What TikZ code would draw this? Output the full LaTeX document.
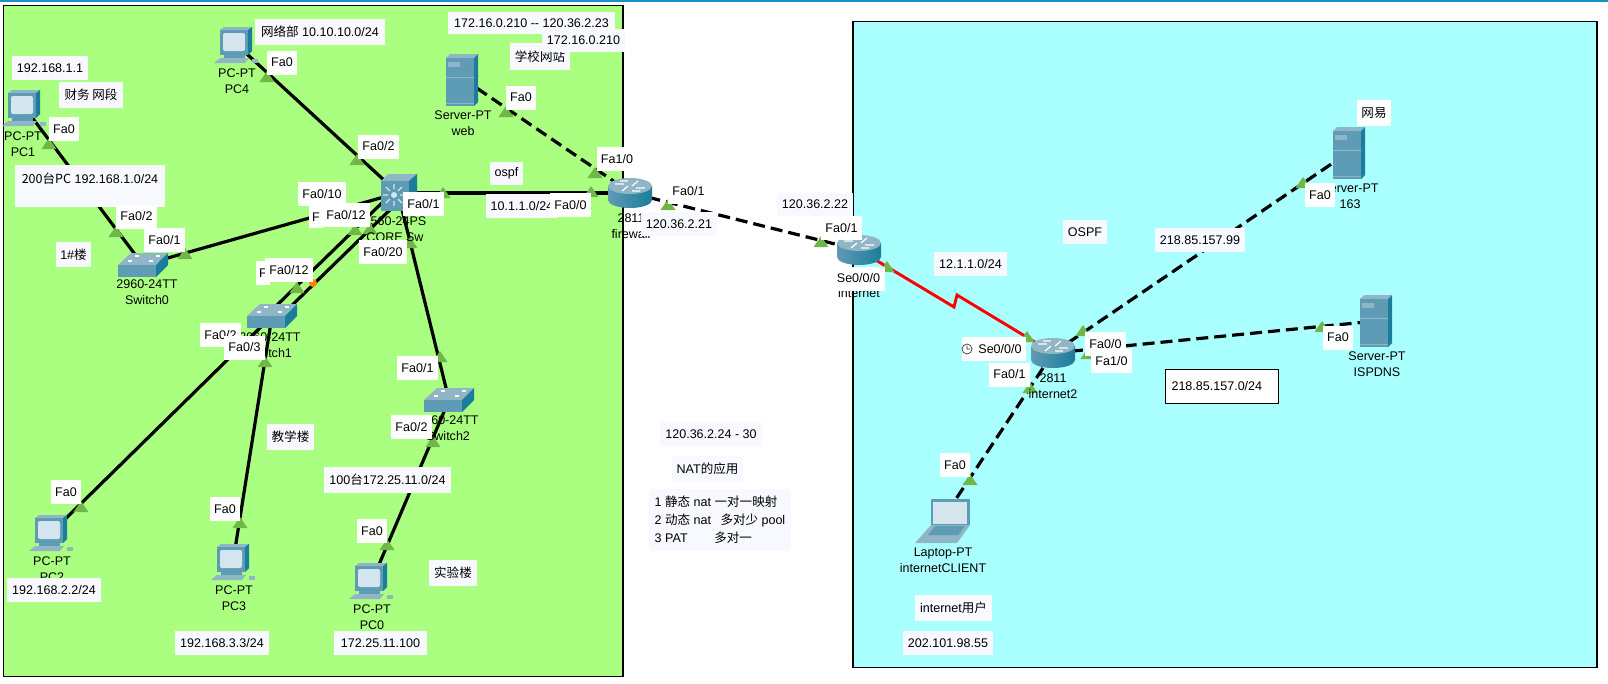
\documentclass[tikz,border=0pt]{standalone}
\usepackage{fontspec}
\setmainfont{Liberation Sans}
\newfontfamily\cjk{Noto Sans CJK SC}
\newcommand{\zh}[1]{{\cjk #1}}
\definecolor{zonegreen}{HTML}{AAFF80}
\definecolor{zonecyan}{HTML}{AAFFFF}
\definecolor{topblue}{HTML}{1A8FC8}
\definecolor{notebg}{HTML}{F7F9FF}
\definecolor{marker}{HTML}{70B648}
\definecolor{icfront}{HTML}{5E9BB4}
\definecolor{icside}{HTML}{1C7C9C}
\definecolor{ictop}{HTML}{8FB5C6}
\definecolor{icscreen}{HTML}{D5E5EE}
\tikzset{
  lan/.style={line width=2.4pt},
  wan/.style={line width=2.4pt,dash pattern=on 9pt off 4.5pt},
  serial/.style={line width=2.2pt,red,line join=miter},
  sized/.style 2 args={minimum width=#1*0.75pt,minimum height=#2*0.75pt},
  txt/.style={inner sep=0pt,font=\fontsize{9.4}{12}\selectfont},
  devlbl/.style={txt,align=center},
  port/.style={txt,fill=white},
  note/.style={txt,fill=notebg},
}
\newcommand{\porttri}[1]{\fill[marker] #1 ++(-7.5,5) -- ++(7.5,-11) -- ++(7.5,11) -- cycle;}
\newcommand{\pcicon}[1]{\begin{scope}[shift={#1}]
    \fill[ictop] (6,3) -- (10,0) -- (38,0) -- (34,3) -- cycle;
    \fill[icside] (34,3) -- (38,0) -- (38,24) -- (34,28) -- cycle;
    \fill[icfront] (6,3) rectangle (34,28);
    \fill[icscreen,rounded corners=1.5] (9,6) rectangle (31,24);
    \fill[icfront] (10,28) rectangle (31,31);
    \fill[ictop] (0,36) -- (6,31) -- (35,31) -- (31,36) -- cycle;
    \fill[ictop] (38,32) rectangle (44,36);
\end{scope}}
\newcommand{\servericon}[1]{\begin{scope}[shift={#1}]
    \fill[ictop] (0,4) -- (4,0) -- (32,0) -- (28,4) -- cycle;
    \fill[icside] (28,4) -- (32,0) -- (32,48) -- (28,52) -- cycle;
    \fill[icfront] (0,4) rectangle (28,52);
    \fill[ictop] (2,8) rectangle (14,13);
    \draw[ictop,line width=0.5pt] (0,23) -- (28,23) (0,49) -- (28,49);
\end{scope}}
\newcommand{\routericon}[1]{\begin{scope}[shift={#1}]
    \shade[left color=icfront,middle color=icscreen,right color=icside]
      (0,8) -- (0,22) arc[start angle=180,end angle=0,x radius=22,y radius=8] -- (44,8) -- cycle;
    \fill[ictop] (22,8) ellipse[x radius=22,y radius=8];
    \draw[white,line width=0.9pt] (7,6) -- (16,6) (12,3) -- (20,3) (37,10) -- (28,10) (32,13) -- (24,13)
      (24,8) -- (30,3) (20,8) -- (14,13);
\end{scope}}
\newcommand{\switchicon}[1]{\begin{scope}[shift={#1}]
    \fill[ictop] (0,13) -- (13,1) -- (50,1) -- (38,13) -- cycle;
    \fill[icside] (38,13) -- (50,1) -- (50,13) -- (38,25) -- cycle;
    \fill[icfront] (0,13) rectangle (38,25);
    \draw[white,line width=0.8pt] (10,9) -- (14,9) (17,4) -- (21,4) (31,9) -- (35,9) (38,4) -- (42,4);
\end{scope}}
\newcommand{\coreicon}[1]{\begin{scope}[shift={#1}]
    \fill[ictop] (0,7) -- (7,0) -- (36,0) -- (28,7) -- cycle;
    \fill[icside] (28,7) -- (36,0) -- (36,28) -- (28,37) -- cycle;
    \fill[icfront] (0,7) rectangle (28,37);
    \fill[icscreen] (13,21) circle[radius=3];
    \draw[icscreen,line width=0.9pt] (13,15) -- (13,10) (13,27) -- (13,32) (7,21) -- (2,21) (19,21) -- (24,21)
      (9,17) -- (5,13) (17,17) -- (21,13) (9,25) -- (5,29) (17,25) -- (21,29);
\end{scope}}
\newcommand{\laptopicon}[1]{\begin{scope}[shift={#1}]
    \fill[icfront] (16,1) rectangle (55,27);
    \fill[icscreen] (18,4) rectangle (52,26);
    \fill[ictop] (0,45) -- (16,27) -- (55,27) -- (42,45) -- cycle;
    \fill[icfront] (13,37) -- (20,28) -- (50,28) -- (43,37) -- cycle;
\end{scope}}

\begin{document}
\begin{tikzpicture}[x=0.75pt,y=0.75pt,yscale=-1,xscale=1]
\useasboundingbox (0,0) rectangle (1608,683);

%Zones
\fill[topblue] (0,0) rectangle (1608,1.5);
\draw[fill=zonegreen,line width=0.8pt] (3.5,5.5) rectangle (623,676.5);
\draw[fill=zonecyan,line width=0.8pt] (853,21.7) rectangle (1597,667.5);

%Devices
\coordinate (pcone) at (22,104);
\coordinate (pcfour) at (236,44);
\coordinate (pctwo) at (51,533);
\coordinate (pcthree) at (233,562);
\coordinate (pczero) at (372,581);
\coordinate (swzero) at (143,265);
\coordinate (swone) at (272,316);
\coordinate (swtwo) at (449,400);
\coordinate (coresw) at (398,193);
\coordinate (webserver) at (462,78);
\coordinate (fwall) at (631,193);
\coordinate (inet) at (859,250);
\coordinate (inettwo) at (1053,353);
\coordinate (srvmail) at (1349,152);
\coordinate (srvdns) at (1376,321);
\coordinate (laptop) at (942,520);
\coordinate (swonea) at (272,310);
\coordinate (swoneb) at (282,315);
\coordinate (corea) at (388,197);
\coordinate (coreb) at (398,202);
\coordinate (zigA) at (954,307);
\coordinate (zigB) at (957,295);

%Links
\draw[lan] (pcone) -- (swzero);
\draw[lan] (swzero) -- (coresw);
\draw[lan] (pcfour) -- (coresw);
\draw[lan] (swonea) -- (corea);
\draw[lan] (swoneb) -- (coreb);
\draw[lan] (coresw) -- (swtwo);
\draw[lan] (coresw) -- (fwall);
\draw[lan] (swone) -- (pctwo);
\draw[lan] (swone) -- (pcthree);
\draw[lan] (swtwo) -- (pczero);
\draw[wan] (webserver) -- (fwall);
\draw[wan] (fwall) -- (inet);
\draw[wan] (inettwo) -- (srvmail);
\draw[wan] (inettwo) -- (srvdns);
\draw[wan] (inettwo) -- (laptop);
\draw[serial] (inet) -- (zigA) -- (zigB) -- (inettwo);
\node (linkdot) [circle,fill=orange,inner sep=0pt,minimum size=6pt] at (313,283) {};

%Port marks
\porttri{(49,144)}
\porttri{(116,232)}
\porttri{(185,254)}
\porttri{(267,77)}
\porttri{(357,160)}
\porttri{(355,230)}
\porttri{(370,229)}
\porttri{(443,193)}
\porttri{(410,243)}
\porttri{(297,288)}
\porttri{(440,357)}
\porttri{(506,112)}
\porttri{(595,173)}
\porttri{(591,192)}
\porttri{(668,205)}
\porttri{(265,362)}
\porttri{(433,442)}
\porttri{(81,507)}
\porttri{(240,523)}
\porttri{(387,545)}
\porttri{(821,242)}
\porttri{(887,267)}
\porttri{(1027,337)}
\porttri{(1030,388)}
\porttri{(1083,331)}
\porttri{(1088,354)}
\porttri{(1303,183)}
\porttri{(1322,327)}
\porttri{(970,480)}

%Icons
\pcicon{(2,90)}
\pcicon{(214,27)}
\pcicon{(29,515)}
\pcicon{(211,544)}
\pcicon{(349,563)}
\switchicon{(118,252)}
\switchicon{(247,303)}
\switchicon{(424,387)}
\coreicon{(381,174)}
\servericon{(446,54)}
\servericon{(1333,127)}
\servericon{(1360,295)}
\routericon{(608,178)}
\routericon{(837,235)}
\routericon{(1031,338)}
\laptopicon{(915,498)}

% Device labels
\node (lblpcone) [devlbl] at (23,144) {PC-PT\\PC1};
\node (lblpcfour) [devlbl] at (237,81) {PC-PT\\PC4};
\node (lblpctwo) [devlbl] at (52,569) {PC-PT\\PC2};
\node (lblpcthree) [devlbl] at (234,598) {PC-PT\\PC3};
\node (lblpczero) [devlbl] at (372,617) {PC-PT\\PC0};
\node (lblswzero) [devlbl] at (147,292) {2960-24TT\\Switch0};
\node (lblswone) [devlbl] at (270,345) {2960-24TT\\Switch1};
\node (lblswtwo) [devlbl] at (448,428) {2960-24TT\\Switch2};
\node (lblcore) [devlbl] at (395,229) {3560-24PS\\CORE Sw};
\node (lblweb) [devlbl] at (463,123) {Server-PT\\web};
\node (lblfwall) [devlbl] at (631,226) {2811\\firewall};
\node (lblinet) [devlbl] at (859,293) {internet};
\node (lblinettwo) [devlbl] at (1053,386) {2811\\internet2};
\node (lblmail) [devlbl] at (1350,196) {Server-PT\\163};
\node (lbldns) [devlbl] at (1377,364) {Server-PT\\ISPDNS};
\node (lbllaptop) [devlbl] at (943,560) {Laptop-PT\\internetCLIENT};

% Text Node
\node (nipone) [note,sized={76}{24}] at (50,68) {192.168.1.1};
\node (nfin) [note,sized={64}{26}] at (91,95) {\zh{财务 网段}};
\node (nnet) [note,sized={130}{26}] at (320,32) {\zh{网络部} 10.10.10.0/24};
\node (ntwohundred) [note,sized={150}{42},align=center] at (90,186) {\zh{200台PC} 192.168.1.0/24\\\mbox{}};
\node (nbuild) [note,sized={35}{25}] at (73.5,254.5) {1\#\zh{楼}};
\node (nschool) [note,sized={60}{27}] at (540,56.5) {\zh{学校网站}};
\node (nwebip) [note,sized={83}{23}] at (583.5,40.5) {172.16.0.210};
\node (nnat) [note,sized={167}{22}] at (531.5,23) {172.16.0.210 -{}- 120.36.2.23};
\node (nospf) [note,sized={33}{23}] at (506.5,173.5) {ospf};
\node (ncorenet) [note,sized={72}{24}] at (522,206) {10.1.1.0/24};
\node (nfwip) [note,sized={76}{24}] at (679,224) {120.36.2.21};
\node (ninetip) [note,sized={76}{23}] at (815,204.5) {120.36.2.22};
\node (nospftwo) [note,sized={44}{24}] at (1085,232) {OSPF};
\node (nserial) [note,sized={73}{24}] at (970.5,264) {12.1.1.0/24};
\node (nmailip) [note,sized={90}{24}] at (1200,240) {218.85.157.99};
\node (nmail) [port,sized={34}{26}] at (1374,113) {\zh{网易}};
\node (nsrvnet) [port,draw=black,line width=0.75pt,sized={113}{34}] at (1221.5,386) {218.85.157.0/24\hspace*{7pt}};
\node (npool) [note,sized={102}{24}] at (711,434) {120.36.2.24 - 30};
\node (napp) [note,sized={71}{26}] at (707.5,469) {NAT\zh{的应用}};
\node (nmodes) [note,sized={142}{62},align=left] at (720,519.5) {1 \zh{静态} nat \zh{一对一映射}\\[1.4pt]2 \zh{动态} nat\hspace*{7pt}\zh{多对少} pool\\[1.4pt]3 PAT\hspace*{20pt}\zh{多对一}};
\node (nuser) [note,sized={77}{26}] at (953.5,608) {internet\zh{用户}};
\node (nuserip) [note,sized={90}{24}] at (948,643) {202.101.98.55};
\node (nteach) [note,sized={47}{26}] at (290.5,437) {\zh{教学楼}};
\node (nhundred) [note,sized={127}{26}] at (387.5,480) {100\zh{台}172.25.11.0/24};
\node (nlab) [note,sized={48}{26}] at (453,573) {\zh{实验楼}};
\node (niptwo) [note,sized={94}{24}] at (54,590) {192.168.2.2/24};
\node (nipthree) [note,sized={94}{24}] at (222,643) {192.168.3.3/24};
\node (nipzero) [note,sized={93}{24}] at (380.5,643) {172.25.11.100};

% Port labels
\node (ppcone) [port,sized={30}{24}] at (64,129) {Fa0};
\node (ppcfour) [port,sized={30}{24}] at (282,62.5) {Fa0};
\node (pswzb) [port,sized={41}{24}] at (136.5,216.5) {Fa0/2};
\node (pswza) [port,sized={41}{24}] at (164.5,240) {Fa0/1};
\node (pcoreb) [port,sized={41}{24}] at (378.5,146.5) {Fa0/2};
\node (pcoreten) [port,sized={48}{24}] at (322,194) {Fa0/10};
\node (pcorestub) [port,sized={14}{22}] at (316,217) {F};
\node (pcoretw) [port,sized={48}{24}] at (346,215) {Fa0/12};
\node (pswostub) [port,sized={14}{24}] at (263,273) {F};
\node (pswotw) [port,sized={48}{24}] at (289,270) {Fa0/12};
\node (pcorea) [port,sized={41}{24}] at (423.5,204) {Fa0/1};
\node (pcoretwenty) [port,sized={48}{24}] at (383,252) {Fa0/20};
\node (pswob) [port,sized={41}{24}] at (220.5,335) {Fa0/2};
\node (pswoc) [port,sized={41}{24}] at (244.5,347.5) {Fa0/3};
\node (pswta) [port,sized={41}{24}] at (417.5,368) {Fa0/1};
\node (pswtb) [port,sized={41}{24}] at (411.5,427) {Fa0/2};
\node (ppctwo) [port,sized={30}{24}] at (66,492) {Fa0};
\node (ppcthree) [port,sized={30}{24}] at (225,509) {Fa0};
\node (ppczero) [port,sized={30}{24}] at (372,531) {Fa0};
\node (pweb) [port,sized={30}{24}] at (521,97.5) {Fa0};
\node (pfwten) [port,sized={41}{24}] at (617,159) {Fa1/0};
\node (pfwz) [port,sized={41}{24}] at (570.5,205) {Fa0/0};
\node (pfwa) [port,sized={41}{24}] at (688.5,191.5) {Fa0/1};
\node (pineta) [port,sized={41}{24}] at (841.5,228) {Fa0/1};
\node (pinetse) [port,sized={53}{24}] at (858.5,278.5) {Se0/0/0};
\node (pinettse) [port,sized={64}{24}] at (994,349) {\hspace*{9pt}Se0/0/0};
\draw[line width=0.5pt,black!80] (967,349) circle[radius=5] (967,345.5) -- (967,349) -- (970,349);
\node (pinetta) [port,sized={41}{24}] at (1009.5,374.5) {Fa0/1};
\node (pinettz) [port,sized={41}{24}] at (1105.5,344) {Fa0/0};
\node (pinettt) [port,sized={41}{24}] at (1111.5,361) {Fa1/0};
\node (pmail) [port,sized={30}{24}] at (1320,195) {Fa0};
\node (pdns) [port,sized={30}{24}] at (1338,337.5) {Fa0};
\node (plaptop) [port,sized={30}{24}] at (955,465) {Fa0};

\end{tikzpicture}
\end{document}
